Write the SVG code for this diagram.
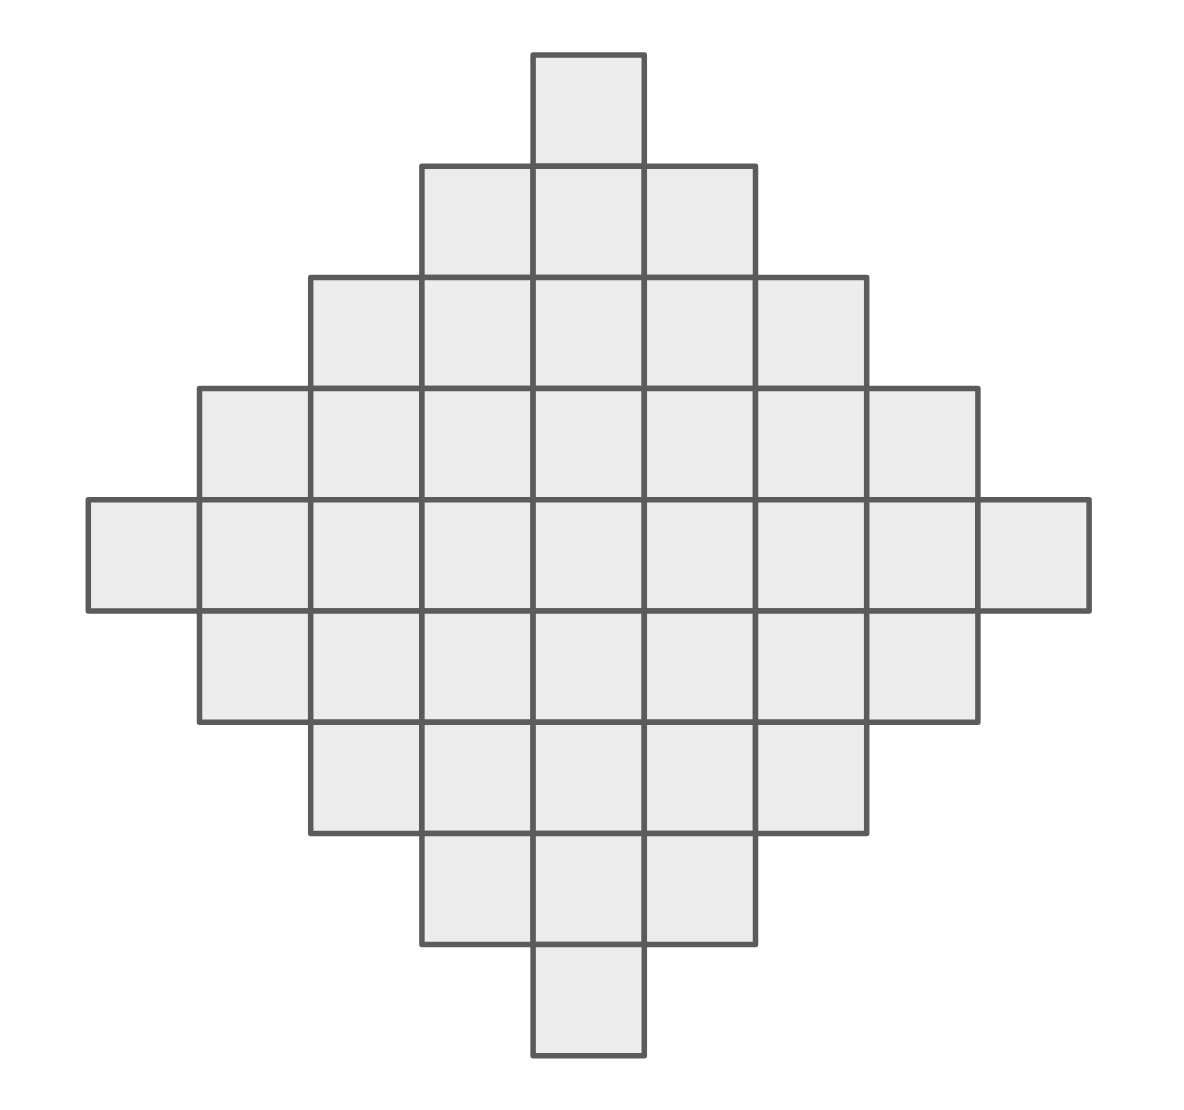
<svg xmlns="http://www.w3.org/2000/svg" width="1184" height="1110" viewBox="0 0 1184 1110">
<style>
.c{fill:#ececec;stroke:#5b5b5b;stroke-width:5.5;stroke-linejoin:round}
</style>
<rect width="1184" height="1110" fill="#ffffff"/>
<g id="r0"><rect id="c0_4" class="c" x="533.1" y="55" width="111.2" height="111.2"/></g>
<g id="r1">
<rect id="c1_3" class="c" x="421.9" y="166.2" width="111.2" height="111.2"/>
<rect id="c1_4" class="c" x="533.1" y="166.2" width="111.2" height="111.2"/>
<rect id="c1_5" class="c" x="644.3" y="166.2" width="111.2" height="111.2"/>
</g>
<g id="r2">
<rect id="c2_2" class="c" x="310.7" y="277.4" width="111.2" height="111.2"/>
<rect id="c2_3" class="c" x="421.9" y="277.4" width="111.2" height="111.2"/>
<rect id="c2_4" class="c" x="533.1" y="277.4" width="111.2" height="111.2"/>
<rect id="c2_5" class="c" x="644.3" y="277.4" width="111.2" height="111.2"/>
<rect id="c2_6" class="c" x="755.5" y="277.4" width="111.2" height="111.2"/>
</g>
<g id="r3">
<rect id="c3_1" class="c" x="199.5" y="388.6" width="111.2" height="111.2"/>
<rect id="c3_2" class="c" x="310.7" y="388.6" width="111.2" height="111.2"/>
<rect id="c3_3" class="c" x="421.9" y="388.6" width="111.2" height="111.2"/>
<rect id="c3_4" class="c" x="533.1" y="388.6" width="111.2" height="111.2"/>
<rect id="c3_5" class="c" x="644.3" y="388.6" width="111.2" height="111.2"/>
<rect id="c3_6" class="c" x="755.5" y="388.6" width="111.2" height="111.2"/>
<rect id="c3_7" class="c" x="866.7" y="388.6" width="111.2" height="111.2"/>
</g>
<g id="r4">
<rect id="c4_0" class="c" x="88.3" y="499.8" width="111.2" height="111.2"/>
<rect id="c4_1" class="c" x="199.5" y="499.8" width="111.2" height="111.2"/>
<rect id="c4_2" class="c" x="310.7" y="499.8" width="111.2" height="111.2"/>
<rect id="c4_3" class="c" x="421.9" y="499.8" width="111.2" height="111.2"/>
<rect id="c4_4" class="c" x="533.1" y="499.8" width="111.2" height="111.2"/>
<rect id="c4_5" class="c" x="644.3" y="499.8" width="111.2" height="111.2"/>
<rect id="c4_6" class="c" x="755.5" y="499.8" width="111.2" height="111.2"/>
<rect id="c4_7" class="c" x="866.7" y="499.8" width="111.2" height="111.2"/>
<rect id="c4_8" class="c" x="977.9" y="499.8" width="111.2" height="111.2"/>
</g>
<g id="r5">
<rect id="c5_1" class="c" x="199.5" y="611" width="111.2" height="111.2"/>
<rect id="c5_2" class="c" x="310.7" y="611" width="111.2" height="111.2"/>
<rect id="c5_3" class="c" x="421.9" y="611" width="111.2" height="111.2"/>
<rect id="c5_4" class="c" x="533.1" y="611" width="111.2" height="111.2"/>
<rect id="c5_5" class="c" x="644.3" y="611" width="111.2" height="111.2"/>
<rect id="c5_6" class="c" x="755.5" y="611" width="111.2" height="111.2"/>
<rect id="c5_7" class="c" x="866.7" y="611" width="111.2" height="111.2"/>
</g>
<g id="r6">
<rect id="c6_2" class="c" x="310.7" y="722.2" width="111.2" height="111.2"/>
<rect id="c6_3" class="c" x="421.9" y="722.2" width="111.2" height="111.2"/>
<rect id="c6_4" class="c" x="533.1" y="722.2" width="111.2" height="111.2"/>
<rect id="c6_5" class="c" x="644.3" y="722.2" width="111.2" height="111.2"/>
<rect id="c6_6" class="c" x="755.5" y="722.2" width="111.2" height="111.2"/>
</g>
<g id="r7">
<rect id="c7_3" class="c" x="421.9" y="833.4" width="111.2" height="111.2"/>
<rect id="c7_4" class="c" x="533.1" y="833.4" width="111.2" height="111.2"/>
<rect id="c7_5" class="c" x="644.3" y="833.4" width="111.2" height="111.2"/>
</g>
<g id="r8"><rect id="c8_4" class="c" x="533.1" y="944.6" width="111.2" height="111.2"/></g>
</svg>
